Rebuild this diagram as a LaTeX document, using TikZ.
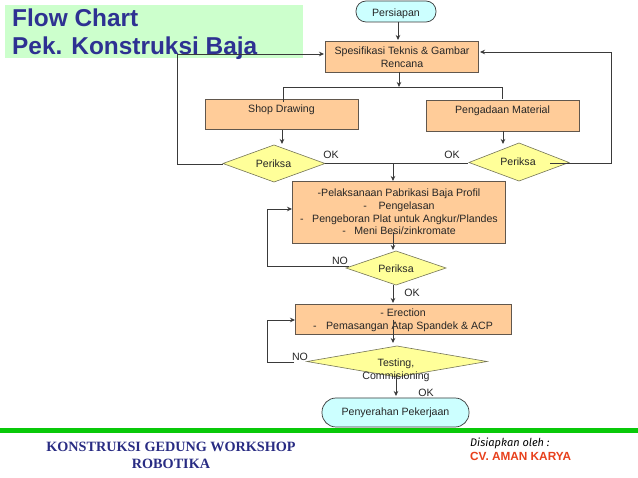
\documentclass[tikz,border=0pt]{standalone}
\usepackage{fontspec}
\setmainfont{Liberation Sans}
\newfontfamily\serifb{Liberation Serif}
\newfontfamily\signf{Fira Sans}
\usetikzlibrary{shapes.geometric,arrows.meta}
\definecolor{boxfill}{HTML}{FFCC99}
\definecolor{diafill}{HTML}{FFFF99}
\definecolor{capfill}{HTML}{CCFFFF}
\definecolor{ttlfill}{HTML}{CCFFCC}
\definecolor{navy}{HTML}{2E3192}
\definecolor{edge}{HTML}{3A3A3A}
\definecolor{barg}{HTML}{09C909}
\definecolor{redor}{HTML}{E8401C}
\tikzset{
  x=1pt,y=-1pt,
  base/.style={inner sep=0pt,outer sep=0pt,font=\fontsize{10.6}{12.8}\selectfont,text=black!85,align=center},
  boxn/.style={base,draw=edge!80!boxfill,line width=.9pt,fill=boxfill,minimum width=#1},
  dia/.style={base,draw=edge!70!diafill,line width=.6pt,fill=diafill},
  capsule/.style={base,draw=edge,line width=.7pt,fill=capfill,rounded corners=10pt},
  lbl/.style={base},
  conn/.style={draw=edge,line width=.8pt},
  arr/.style={conn,-{Stealth[length=5pt,width=4.5pt]}},
}
\begin{document}
\begin{tikzpicture}
\useasboundingbox (0,0) rectangle (638,478);
\fill[white] (0,0) rectangle (638,478);
% title
\node[inner sep=0pt,minimum width=298pt,minimum height=53pt,fill=ttlfill] (title) at (154,31.5) {};
\node[inner sep=0pt,anchor=west,font=\bfseries\fontsize{24.4}{24.4}\selectfont,text=navy] (t1) at (12,18) {Flow Chart};
\node[inner sep=0pt,anchor=west,font=\bfseries\fontsize{24.4}{24.4}\selectfont,text=navy] (t2) at (12,48) {Pek. Konstruksi Baja};
% terminals
\node[capsule,minimum width=80pt,minimum height=21pt] (prep) at (396,11.5) {};
\node[lbl] (prept) at (396,13.5) {Persiapan};
\node[capsule,minimum width=147pt,minimum height=29pt,rounded corners=14pt] (done) at (395.5,412.5) {};
\node[lbl] (donet) at (395.5,412.5) {Penyerahan Pekerjaan};
% boxes
\node[boxn=153pt,minimum height=31pt] (spec) at (401.5,56.5) {};
\node[lbl] (spect) at (402,57.5) {Spesifikasi Teknis \& Gambar\\Rencana};
\node[boxn=153pt,minimum height=30pt] (shop) at (281.5,114) {};
\node[lbl] (shopt) at (281.5,109.5) {Shop Drawing};
\node[boxn=153pt,minimum height=31pt] (mat) at (502.5,115.5) {};
\node[lbl] (matt) at (502.5,110.5) {Pengadaan Material};
\node[boxn=213pt,minimum height=62pt] (fab) at (398.5,212) {};
\node[lbl] (fabt) at (399,212) {-Pelaksanaan Pabrikasi Baja Profil\\-\hspace{1.1em}Pengelasan\\-\hspace{.8em}Pengeboran Plat untuk Angkur/Plandes\\-\hspace{.8em}Meni Besi/zinkromate};
\node[boxn=216pt,minimum height=30pt] (erc) at (403,319) {};
\node[lbl] (erct) at (403,320.5) {- Erection\\-\hspace{.9em}Pemasangan Atap Spandek \& ACP};
% diamonds
\path[dia] (223,163.5) -- (274,145) -- (325,163.5) -- (274,182) -- cycle;
\node[lbl] (pl) at (273.5,164) {Periksa};
\path[dia] (469,162.5) -- (519,143) -- (569,162.5) -- (519,181) -- cycle;
\node[lbl] (pr) at (518,162) {Periksa};
\path[dia] (346,268) -- (396,251) -- (446,268) -- (396,285) -- cycle;
\node[lbl] (pm) at (396,269) {Periksa};
\path[dia] (307,361.5) -- (397,346) -- (487,361.5) -- (397,377) -- cycle;
\node[lbl] (test) at (396,370.5) {Testing,\\Commisioning};
% junctions
\coordinate (a1) at (398,22);   \coordinate (a2) at (398,40);
\coordinate (b1) at (399,72);   \coordinate (b2) at (399,87);
\coordinate (hl) at (283,87);   \coordinate (hr) at (502,87);
\coordinate (hld) at (283,102); \coordinate (hrd) at (502,99);
\coordinate (c1) at (282,130);  \coordinate (c2) at (282,144);
\coordinate (d1) at (503,131);  \coordinate (d2) at (503,144);
\coordinate (e0) at (223,164);  \coordinate (e1) at (177,164);
\coordinate (e2) at (177,54);   \coordinate (e3) at (324,54);
\coordinate (f0) at (550,163);  \coordinate (f1) at (611,163);
\coordinate (f2) at (611,52);   \coordinate (f3) at (480,52);
\coordinate (g0) at (325,163.5);\coordinate (g1) at (468,163.5);
\coordinate (h1) at (393,163.5);\coordinate (h2) at (393,181);
\coordinate (i1) at (393,232);  \coordinate (i2) at (393,250);
\coordinate (j0) at (349,266);  \coordinate (j1) at (267,266);
\coordinate (j2) at (267,209);  \coordinate (j3) at (292,209);
\coordinate (k1) at (393,285);  \coordinate (k2) at (393,303);
\coordinate (l1) at (393,320);  \coordinate (l2) at (393,343);
\coordinate (m0) at (294,362);  \coordinate (m1) at (267,362);
\coordinate (m2) at (267,320);  \coordinate (m3) at (295,320);
\coordinate (n1) at (396,375);  \coordinate (n2) at (396,396);
% connectors
\draw[arr] (a1) -- (a2);
\draw[arr] (b1) -- (b2);
\draw[conn] (hld) -- (hl) -- (hr) -- (hrd);
\draw[arr] (c1) -- (c2);
\draw[arr] (d1) -- (d2);
\draw[arr] (e0) -- (e1) -- (e2) -- (e3);
\draw[arr] (f0) -- (f1) -- (f2) -- (f3);
\draw[conn] (g0) -- (g1);
\draw[arr] (h1) -- (h2);
\draw[arr] (i1) -- (i2);
\draw[arr] (j0) -- (j1) -- (j2) -- (j3);
\draw[arr] (k1) -- (k2);
\draw[arr] (l1) -- (l2);
\draw[arr] (m0) -- (m1) -- (m2) -- (m3);
\draw[arr] (n1) -- (n2);
% edge labels
\node[lbl] (ok1) at (331,154.5) {OK};
\node[lbl] (ok2) at (452,154.5) {OK};
\node[lbl] (no1) at (340,260.5) {NO};
\node[lbl] (ok3) at (412,292.5) {OK};
\node[lbl] (no2) at (300,356.5) {NO};
\node[lbl] (ok4) at (426,392.5) {OK};
% footer
\fill[barg] (0,428) rectangle (638,433.5);
\node[inner sep=0pt,align=center,text=navy!90!black,font=\serifb\bfseries\fontsize{14.2}{17}\selectfont] (foot) at (171,455) {KONSTRUKSI GEDUNG WORKSHOP\\ROBOTIKA};
\node[inner sep=0pt,anchor=west,font=\signf\itshape\fontsize{11}{12}\selectfont,text=black] (sig1) at (470,443) {Disiapkan oleh :};
\node[inner sep=0pt,anchor=west,font=\bfseries\fontsize{11.8}{12}\selectfont,text=redor] (sig2) at (470,456) {CV. AMAN KARYA};
\end{tikzpicture}
\end{document}
